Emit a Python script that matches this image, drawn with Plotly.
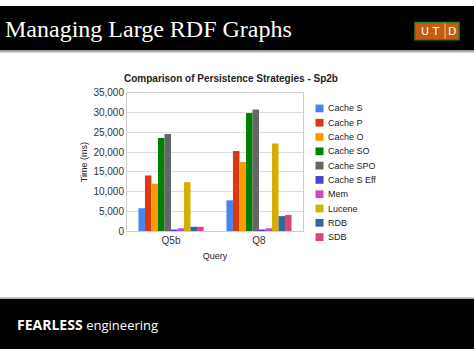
import plotly.graph_objects as go

W, H = 474, 355

queries = ["Q5b", "Q8"]
series_names = ["Cache S", "Cache P", "Cache O", "Cache SO", "Cache SPO",
                "Cache S Eff", "Mem", "Lucene", "RDB", "SDB"]
cache_s = [5800, 7800]
cache_p = [14100, 20300]
cache_o = [12000, 17500]
cache_so = [23600, 29900]
cache_spo = [24600, 30800]
cache_s_eff = [400, 400]
mem = [700, 700]
lucene = [12400, 22200]
rdb = [1100, 3800]
sdb = [1100, 4100]
series_values = [cache_s, cache_p, cache_o, cache_so, cache_spo,
                 cache_s_eff, mem, lucene, rdb, sdb]
colors = ["#4684EE", "#DC3912", "#FF9900", "#008000", "#666666",
          "#4942CC", "#CB4AC5", "#D6AE00", "#336699", "#DD4477"]
y_ticks = [0, 5000, 10000, 15000, 20000, 25000, 30000, 35000]

def px(x):
    return x / W

def py(y):
    return 1 - y / H

fig = go.Figure()
for name, vals, col in zip(series_names, series_values, colors):
    fig.add_trace(go.Bar(name=name, x=queries, y=vals, marker_color=col,
                         marker_line_width=0))

font_main = "Liberation Sans, Arial, sans-serif"

fig.update_layout(
    width=W, height=H,
    margin=dict(l=0, r=0, t=0, b=0),
    paper_bgcolor="white", plot_bgcolor="white",
    showlegend=False,
    barmode="group", bargap=0.26, bargroupgap=0,
    xaxis=dict(domain=[px(127), px(303)], showgrid=False,
               showline=True, linecolor="#cccccc", mirror=True,
               ticks="", tickfont=dict(family=font_main, size=10, color="#333"),
               title=dict(text="Query", font=dict(family=font_main, size=9, color="#222"),
                          standoff=7)),
    yaxis=dict(domain=[py(233), py(90)], range=[0, 35000], tickvals=y_ticks,
               tickformat=",", showgrid=True, gridcolor="#dddddd",
               showline=True, linecolor="#cccccc", mirror=True, zeroline=False,
               ticks="", ticklen=0, tickfont=dict(family=font_main, size=10, color="#333"),
               title=dict(text="Time (ms)", font=dict(family=font_main, size=9, color="#222"),
                          standoff=4)),
)

shapes = []
annotations = []
# header band
shapes.append(dict(type="rect", xref="paper", yref="paper", x0=0, x1=1,
                   y0=py(46), y1=1, fillcolor="black", line_width=0, layer="below"))
shapes.append(dict(type="rect", xref="paper", yref="paper", x0=0, x1=1,
                   y0=py(48), y1=py(46), fillcolor="#b0b0b0", line_width=0, layer="below"))
# footer band
shapes.append(dict(type="rect", xref="paper", yref="paper", x0=0, x1=1,
                   y0=0, y1=py(303), fillcolor="black", line_width=0, layer="below"))
shapes.append(dict(type="rect", xref="paper", yref="paper", x0=0, x1=1,
                   y0=py(303), y1=py(301.5), fillcolor="#b0b0b0", line_width=0, layer="below"))
# UTD logo
shapes.append(dict(type="rect", xref="paper", yref="paper", x0=px(415), x1=px(459),
                   y0=py(35), y1=py(17), fillcolor="#C75B12",
                   line=dict(color="#3E7A2A", width=1.5)))
shapes.append(dict(type="line", xref="paper", yref="paper", x0=px(445), x1=px(445),
                   y0=py(34), y1=py(18), line=dict(color="#E8C7A0", width=1)))
annotations.append(dict(text="U T", x=px(430), y=py(26), xref="paper", yref="paper",
                        showarrow=False, xanchor="center", yanchor="middle",
                        font=dict(family="DejaVu Sans, sans-serif", size=11, color="white")))
annotations.append(dict(text="D", x=px(452), y=py(26), xref="paper", yref="paper",
                        showarrow=False, xanchor="center", yanchor="middle",
                        font=dict(family="DejaVu Sans, sans-serif", size=11, color="white")))
# header title
annotations.append(dict(text="Managing Large RDF Graphs", x=px(3), y=py(24),
                        xref="paper", yref="paper", showarrow=False,
                        xanchor="left", yanchor="middle",
                        font=dict(family="Liberation Serif, Times New Roman, serif",
                                  size=24, color="white")))
# footer text
annotations.append(dict(text="<b>FEARLESS</b> <span style='font-size:13px'>engineering</span>",
                        x=px(15), y=py(330), xref="paper", yref="paper", showarrow=False,
                        xanchor="left", yanchor="middle",
                        font=dict(family="Open Sans, DejaVu Sans, sans-serif", size=14, color="white")))
# chart title
annotations.append(dict(text="<b>Comparison of Persistence Strategies - Sp2b</b>",
                        x=px(231), y=py(75), xref="paper", yref="paper", showarrow=False,
                        xanchor="center", yanchor="middle",
                        font=dict(family=font_main, size=10, color="#222")))
# manual legend
for i, (name, col) in enumerate(zip(series_names, colors)):
    yc = 106 + i * 14.8
    shapes.append(dict(type="rect", xref="paper", yref="paper",
                       x0=px(315.5), x1=px(323.5), y0=py(yc + 4), y1=py(yc - 4),
                       fillcolor=col, line_width=0))
    annotations.append(dict(text=name, x=px(326), y=py(yc), xref="paper", yref="paper",
                            showarrow=False, xanchor="left", yanchor="middle",
                            font=dict(family=font_main, size=9, color="#222")))

fig.update_layout(shapes=shapes, annotations=annotations)
fig.write_html(
    "out.html",
    config={"displayModeBar": False},
    post_script="document.body.style.margin='0';document.body.style.padding='0';"
                "document.documentElement.style.margin='0';"
                "document.documentElement.style.overflow='hidden';"
                "document.body.style.overflow='hidden';",
)
